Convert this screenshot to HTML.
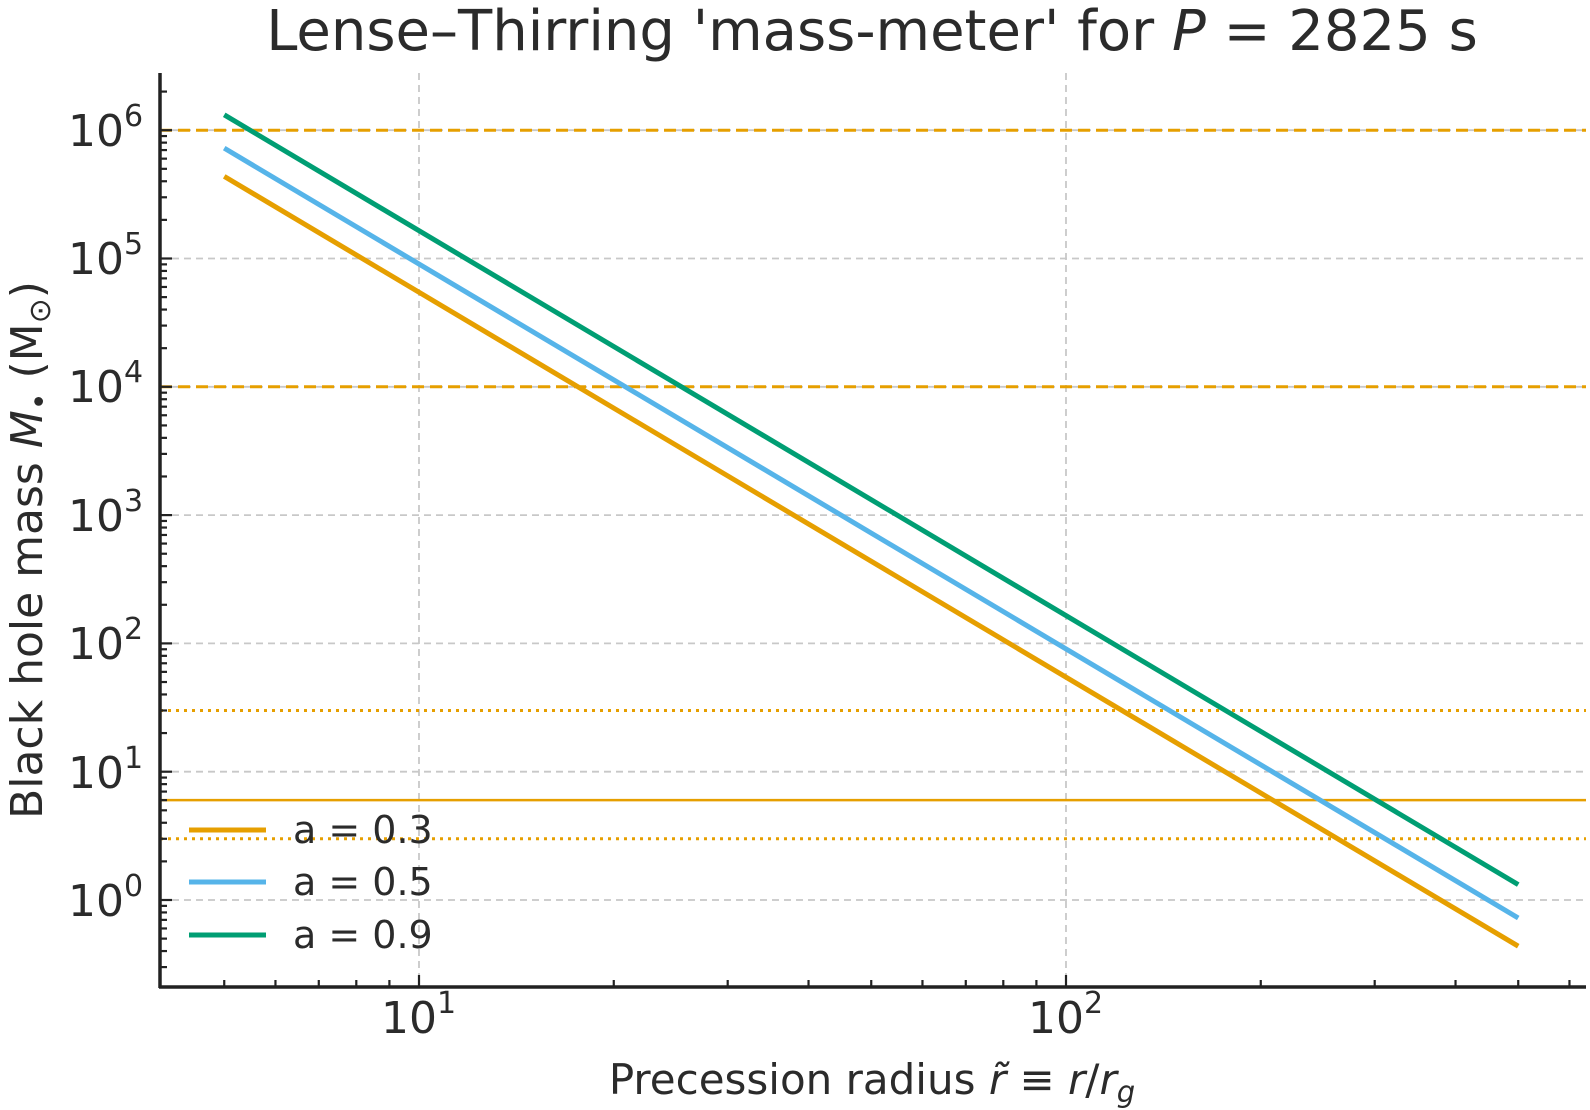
<!DOCTYPE html>
<html><head><meta charset="utf-8"><style>
html,body{margin:0;padding:0;background:#fff;}
svg{display:block;font-family:"DejaVu Sans","Liberation Sans",sans-serif;}
</style></head><body>
<svg id="s" width="1590" height="1110" viewBox="0 0 1590 1110" xmlns="http://www.w3.org/2000/svg">
<g id="grid" stroke="#c8c8c8" stroke-width="1.8" stroke-dasharray="7,5" fill="none"></g>
<g id="ref"></g>
<g id="series" fill="none" stroke-width="5"></g>
<g id="ticks" stroke="#222" stroke-width="2.2"></g>
<line x1="160" y1="73" x2="160" y2="988" stroke="#222" stroke-width="3.5"/>
<line x1="159" y1="987" x2="1586" y2="987" stroke="#222" stroke-width="3.5"/>
<g fill="#2b2b2b" font-size="44">
<text x="68" y="146">10<tspan font-size="30" dy="-20">6</tspan></text>
<text x="68" y="274">10<tspan font-size="30" dy="-20">5</tspan></text>
<text x="68" y="402">10<tspan font-size="30" dy="-20">4</tspan></text>
<text x="68" y="531">10<tspan font-size="30" dy="-20">3</tspan></text>
<text x="68" y="659">10<tspan font-size="30" dy="-20">2</tspan></text>
<text x="68" y="788">10<tspan font-size="30" dy="-20">1</tspan></text>
<text x="68" y="916">10<tspan font-size="30" dy="-20">0</tspan></text>
<text x="381" y="1033">10<tspan font-size="30" dy="-20">1</tspan></text>
<text x="1028" y="1033">10<tspan font-size="30" dy="-20">2</tspan></text>
</g>
<text x="872" y="1094" text-anchor="middle" font-size="42" fill="#2b2b2b">Precession radius <tspan font-style="italic">r̃</tspan> ≡ <tspan font-style="italic">r</tspan>/<tspan font-style="italic">r</tspan><tspan font-style="italic" font-size="29" dy="8">g</tspan></text>
<text transform="translate(42,550) rotate(-90)" text-anchor="middle" font-size="44" fill="#2b2b2b">Black hole mass <tspan font-style="italic">M</tspan><tspan font-size="30" dy="8">•</tspan><tspan dy="-8"> (M</tspan><tspan font-size="30" dy="8">⊙</tspan><tspan dy="-8">)</tspan></text>
<text x="872" y="50" text-anchor="middle" font-size="56" fill="#2b2b2b">Lense–Thirring 'mass-meter' for <tspan font-style="italic">P</tspan> = 2825 s</text>
<g stroke-width="5">
<line x1="189" y1="830" x2="266" y2="830" stroke="#E69F00"/>
<line x1="189" y1="882" x2="266" y2="882" stroke="#56B4E9"/>
<line x1="189" y1="935" x2="266" y2="935" stroke="#009E73"/>
</g>
<g fill="#2b2b2b" font-size="38">
<text x="293" y="843">a = 0.3</text>
<text x="293" y="895">a = 0.5</text>
<text x="293" y="948">a = 0.9</text>
</g>
</svg>
<script>
const NS="http://www.w3.org/2000/svg";
const X=r=>419+647*(Math.log10(r)-1), Y=m=>900-128.3*Math.log10(m);
function ln(g,x1,y1,x2,y2,a){const e=document.createElementNS(NS,"line");e.setAttribute("x1",x1);e.setAttribute("y1",y1);e.setAttribute("x2",x2);e.setAttribute("y2",y2);for(const k in (a||{}))e.setAttribute(k,a[k]);document.getElementById(g).appendChild(e);}
for(let k=0;k<=6;k++){const y=Y(Math.pow(10,k));ln("grid",160,y,1586,y);ln("ticks",160,y,172,y);}
[10,100].forEach(r=>{const x=X(r);ln("grid",x,73,x,987);ln("ticks",x,987,x,975);});
for(let k=-1;k<=6;k++)for(let j=2;j<=9;j++){const m=j*Math.pow(10,k);const y=Y(m);if(y>75&&y<985)ln("ticks",160,y,167,y);}
for(let k=0;k<=2;k++)for(let j=2;j<=9;j++){const r=j*Math.pow(10,k);const x=X(r);if(x>162&&x<1585)ln("ticks",x,987,x,980);}
const o="#E69F00";
ln("ref",160,Y(1e6),1586,Y(1e6),{stroke:o,"stroke-width":3,"stroke-dasharray":"12,6"});
ln("ref",160,Y(1e4),1586,Y(1e4),{stroke:o,"stroke-width":3,"stroke-dasharray":"12,6"});
ln("ref",160,Y(30),1586,Y(30),{stroke:o,"stroke-width":3,"stroke-dasharray":"3,5"});
ln("ref",160,Y(3),1586,Y(3),{stroke:o,"stroke-width":3,"stroke-dasharray":"3,5"});
ln("ref",160,Y(6),1586,Y(6),{stroke:o,"stroke-width":2.5});
[[5.64,o],[5.86,"#56B4E9"],[6.12,"#009E73"]].forEach(([l,c])=>{
 const m0=Math.pow(10,l);ln("series",X(5),Y(m0),X(500),Y(m0/1e6),{stroke:c});});
</script>
</body></html>
